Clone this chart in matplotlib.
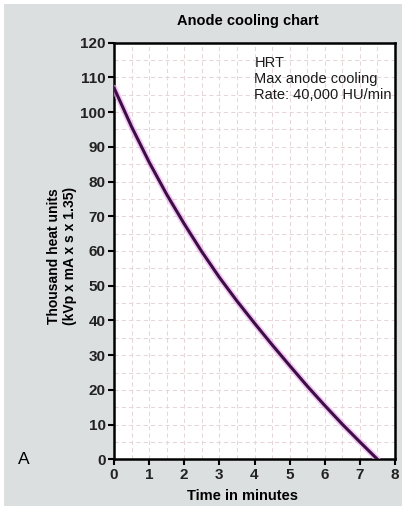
import matplotlib
matplotlib.use("Agg")
import matplotlib.pyplot as plt
from matplotlib.patches import Rectangle

# readings taken off the chart (minutes, thousand HU)
time_min = [0, 0.5, 1, 1.5, 2, 2.5, 3, 3.5, 4, 4.5, 5, 5.5, 6, 6.5, 7, 7.5]
heat_units = [107, 95.8, 85.6, 76.3, 67.8, 59.8, 52.4, 45.6, 39.2, 33, 27, 21.1, 15.5, 10.1, 5, 0]

x_ticks = [0, 1, 2, 3, 4, 5, 6, 7, 8]
y_ticks = [0, 10, 20, 30, 40, 50, 60, 70, 80, 90, 100, 110, 120]
note_lines = ["HRT", "Max anode cooling", "Rate: 40,000 HU/min"]

plt.rcParams["font.family"] = ["Liberation Sans", "DejaVu Sans"]

fig = plt.figure(figsize=(4.1, 5.11), dpi=100)
fig.patch.set_facecolor("white")

# grey card behind the chart
card = Rectangle((4 / 410, 5 / 511), 398 / 410, 502 / 511,
                 transform=fig.transFigure, facecolor="#dcdfdf",
                 edgecolor="none", zorder=-5)
fig.add_artist(card)

ax = fig.add_axes([114 / 410, 51.7 / 511, 281 / 410, 416.6 / 511])
ax.set_zorder(1)
ax.set_facecolor("white")
ax.set_xlim(0, 8)
ax.set_ylim(0, 120)

# dashed grid every half minute / every 5 units
grid_x = [i * 0.5 for i in range(1, 16)]
grid_y = [i * 5 for i in range(1, 24)]
ax.set_xticks(grid_x, minor=True)
ax.set_yticks(grid_y, minor=True)
ax.grid(which="both", color="#e6d6d8", linestyle=(0, (4, 3)), linewidth=0.75)
ax.set_axisbelow(True)
ax.tick_params(which="minor", length=0)

ax.plot(time_min, heat_units, color="#f0a8f4", linewidth=4.5, alpha=0.7,
        solid_capstyle="round", zorder=3)
ax.plot(time_min, heat_units, color="#3a0f42", linewidth=2.2,
        solid_capstyle="round", zorder=4)

ax.set_xticks(x_ticks)
ax.set_yticks(y_ticks)
ax.tick_params(which="major", direction="out", length=4, width=1.5,
               labelsize=11, pad=2, color="black")
for lab in ax.get_xticklabels() + ax.get_yticklabels():
    lab.set_fontweight("bold")
    lab.set_color("#222222")

for sp in ax.spines.values():
    sp.set_linewidth(1.8)
    sp.set_color("black")

ax.set_title("Anode cooling chart", fontsize=10.5, fontweight="bold",
             x=0.477, pad=13)
ax.set_xlabel("Time in minutes", fontsize=10.5, fontweight="bold")
ax.xaxis.set_label_coords(0.459, -0.072)
ax.set_ylabel("Thousand heat units\n(kVp x mA x s x 1.35)", fontsize=10,
              fontweight="bold", linespacing=1.15)
ax.yaxis.set_label_coords(-0.132, 0.488)

ax.text(4.0, 116.3, "\n".join(note_lines), fontsize=10.5, va="top", ha="left",
        linespacing=1.2, color="#1a1a1a")

fig.text(18 / 410, (511 - 459) / 511, "A", fontsize=12.5, va="center", ha="left")

fig.savefig("out.png", dpi=100, facecolor=fig.get_facecolor())
